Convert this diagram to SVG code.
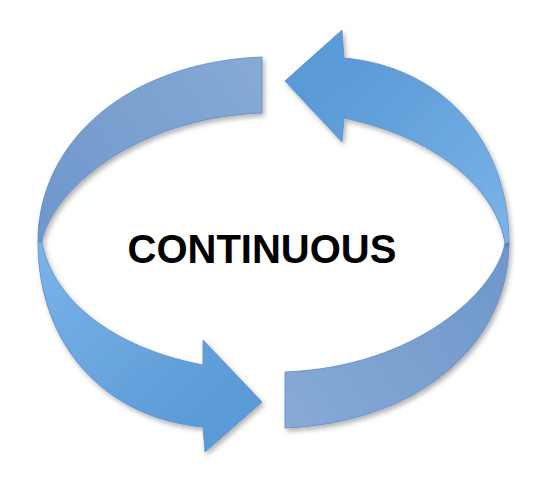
<svg xmlns="http://www.w3.org/2000/svg" width="548" height="502" viewBox="0 0 548 502">
  <defs>
    <style>
      .band { stroke: #5b8dc9; stroke-width: 0.8; stroke-linejoin: round; filter: url(#shadow); }
      .label { font-family: "Liberation Sans", Arial, sans-serif; font-weight: bold; font-size: 40px; fill: #000; }
    </style>
    <filter id="shadow" x="-10%" y="-10%" width="130%" height="130%">
      <feDropShadow dx="2" dy="3" stdDeviation="2.5" flood-color="#000" flood-opacity="0.3"/>
    </filter>
    <linearGradient id="tailL" gradientUnits="userSpaceOnUse" x1="262" y1="80" x2="40" y2="240">
      <stop offset="0" stop-color="#86a9d5"/>
      <stop offset="1" stop-color="#6e97cb"/>
    </linearGradient>
    <linearGradient id="tailR" gradientUnits="userSpaceOnUse" x1="285" y1="400" x2="507" y2="245">
      <stop offset="0" stop-color="#86a9d5"/>
      <stop offset="1" stop-color="#6e97cb"/>
    </linearGradient>
    <linearGradient id="arrowL" gradientUnits="userSpaceOnUse" x1="40" y1="245" x2="210" y2="420">
      <stop offset="0" stop-color="#7bb2e9"/>
      <stop offset="1" stop-color="#5a9ad6"/>
    </linearGradient>
    <linearGradient id="arrowR" gradientUnits="userSpaceOnUse" x1="507" y1="240" x2="340" y2="65">
      <stop offset="0" stop-color="#7bb2e9"/>
      <stop offset="1" stop-color="#5a9ad6"/>
    </linearGradient>
  </defs>
  <rect width="548" height="502" fill="#ffffff"/>
  <g id="connectors">
    <g id="tail-left">
      <path class="band" fill="url(#tailL)" d="M262,57 C130,62 38,140 38,242 L42,242 C50,195 130,118 262,113 Z"/>
    </g>
    <g id="tail-right">
      <path class="band" fill="url(#tailR)" d="M285,428 C417,423 509,345 509,243 L505,243 C497,290 417,367 285,372 Z"/>
    </g>
    <g id="arrow-bottom">
      <path class="band" fill="url(#arrowL)" d="M38,242 C38,345 105,418 203,427 L205,452 L262,402 L203,340 L203,365 C100,345 50,290 42,242 Z"/>
    </g>
    <g id="arrow-top">
      <path class="band" fill="url(#arrowR)" d="M509,243 C509,140 442,67 344,58 L342,30 L285,81 L342,142 L344,118 C447,140 497,195 505,243 Z"/>
    </g>
  </g>
  <g id="label">
    <text class="label" x="262" y="263" text-anchor="middle">CONTINUOUS</text>
  </g>
</svg>
